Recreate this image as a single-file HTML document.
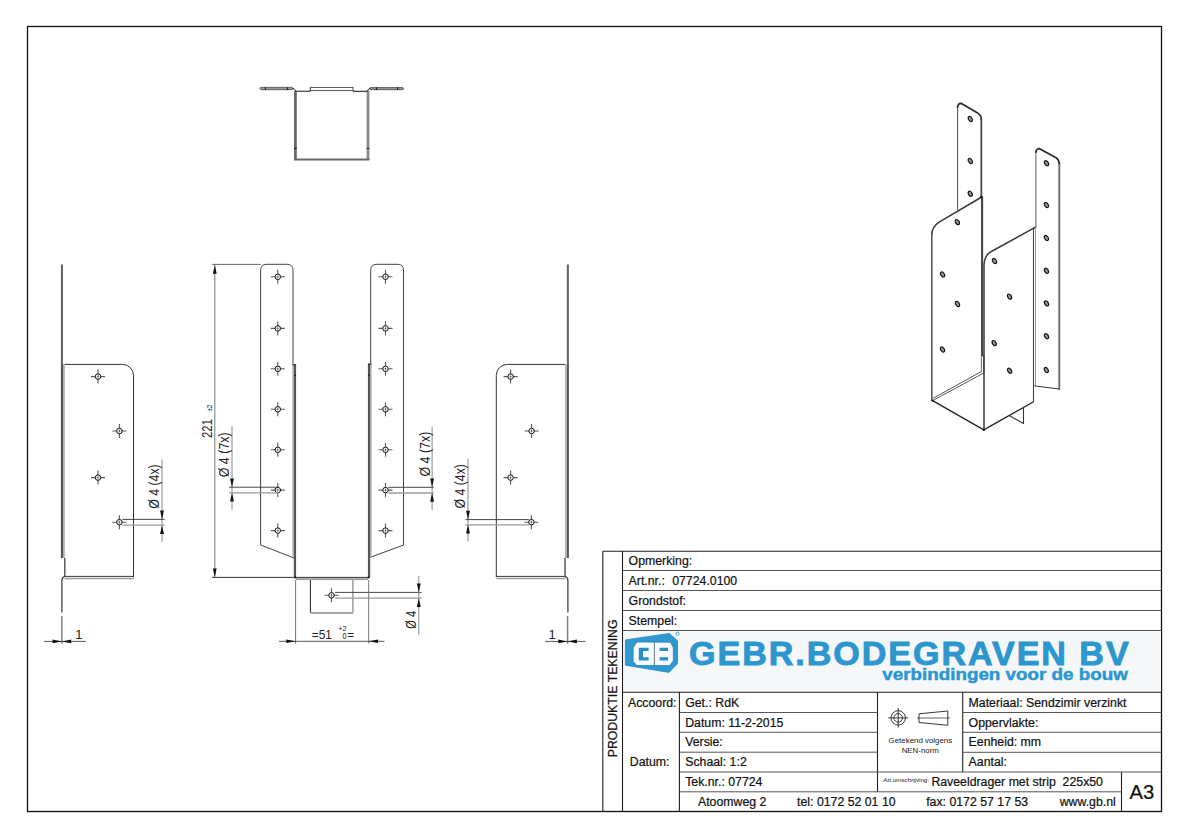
<!DOCTYPE html>
<html><head><meta charset="utf-8">
<style>
html,body{margin:0;padding:0;background:#fff;width:1188px;height:839px;overflow:hidden}
svg{display:block}
text{font-family:"Liberation Sans",sans-serif}
</style></head>
<body>
<svg width="1188" height="839" viewBox="0 0 1188 839">
<!-- frame -->
<rect x="27.5" y="26.5" width="1134" height="785" fill="none" stroke="#111" stroke-width="1.3"/>

<!-- TITLE BLOCK -->
<g id="tb">
<rect x="622.5" y="630.5" width="538.5" height="61.5" fill="#f6f7f9"/>
<g stroke="#222" stroke-width="1.1" fill="none">
<path d="M602.8 551.2V811.5 M602.8 551.2H1161.5 M622.5 551.2V811.5"/>
<path d="M622.5 692.2H1161.5 M679.4 692.2V811.5 M877.5 692.2V792 M962.7 692.2V772 M1121.5 772V811.5"/>
</g>
<g stroke="#555" stroke-width="1" fill="none">
<path d="M622.5 570.5H1161.5 M622.5 590.5H1161.5 M622.5 610.5H1161.5 M622.5 630.5H1161.5"/>
<path d="M679.4 712.5H877.5 M679.4 732.3H877.5 M679.4 752.2H877.5 M679.4 772H1161.5 M679.4 791.8H1121.5"/>
<path d="M962.7 712.5H1161.5 M962.7 732.3H1161.5 M962.7 752.3H1161.5"/>
</g>
<g font-size="12.3" fill="#111" stroke="#111" stroke-width="0.22">
<text x="628.6" y="564.7">Opmerking:</text>
<text x="628.6" y="584.7">Art.nr.:<tspan x="672.2">07724.0100</tspan></text>
<text x="628.6" y="604.7">Grondstof:</text>
<text x="628.6" y="624.7">Stempel:</text>
<text x="628" y="706.7">Accoord:</text>
<text x="629.8" y="765.8">Datum:</text>
<text x="685.2" y="706.7">Get.: RdK</text>
<text x="685.2" y="726.5">Datum: 11-2-2015</text>
<text x="685.2" y="746.3">Versie:</text>
<text x="685.2" y="766">Schaal: 1:2</text>
<text x="685.2" y="785.8">Tek.nr.: 07724</text>
<text x="698" y="805.7">Atoomweg 2</text>
<text x="797.1" y="805.7">tel: 0172 52 01 10</text>
<text x="926.2" y="805.7">fax: 0172 57 17 53</text>
<text x="1059.7" y="805.7">www.gb.nl</text>
<text x="968.6" y="706.7">Materiaal: Sendzimir verzinkt</text>
<text x="968.6" y="726.5">Oppervlakte:</text>
<text x="968.6" y="746.3">Eenheid: mm</text>
<text x="968.6" y="766">Aantal:</text>
<text x="931.4" y="785.8" xml:space="preserve">Raveeldrager met strip  225x50</text>
<text transform="translate(616.5 757.3) rotate(-90)">PRODUKTIE TEKENING</text>
</g>
<text x="883.3" y="781.6" font-size="6.2" fill="#222">Art.omschrijving:</text>
<text x="1129.6" y="799.2" font-size="20.2" fill="#111" stroke="#111" stroke-width="0.2">A3</text>
<text x="920.4" y="743.2" font-size="7.9" text-anchor="middle" fill="#222">Getekend volgens</text>
<text x="920.3" y="752.6" font-size="7.9" text-anchor="middle" fill="#222">NEN-norm</text>
<!-- NEN symbol -->
<g stroke="#222" stroke-width="0.9" fill="none">
<circle cx="898.2" cy="717.9" r="7.2"/>
<circle cx="898.2" cy="717.9" r="4.3"/>
<path d="M888.1 717.9H908.3 M898.2 707.9V727.6"/>
<path d="M919 713.8L947.8 711V725.3L919 722.5Z"/><path d="M917 718H950" stroke-width="0.7"/>
</g>
<!-- logo -->
<g id="logo">
<path d="M625.4 639.9L669.4 633.4L677.5 640.8V663.7L668.9 672.4L625.4 665.2Z" fill="#2e98d0" stroke="#2a88c0" stroke-width="0.8"/>
<path d="M637 642L670.6 642.3L673.3 647.7V661L669.4 665.5H637L633.1 661.4V647.7Z" fill="#f6fcff" stroke="#2479aa" stroke-width="0.7"/>
<path d="M638.8 647.7H648.6V651H643V657.2H648.6V660.5H638.8Z" fill="#2a8fc4"/>
<path d="M659.6 647.7H668V651H659.6Z M659.6 657.2H668V660.5H659.6Z" fill="#2a8fc4"/>
<path d="M654.4 642.3V665.5" stroke="#3a4a60" stroke-width="0.75"/>
<circle cx="677.5" cy="633.7" r="1.6" fill="none" stroke="#2e98d0" stroke-width="0.9"/>
<text x="689" y="665" font-size="34.1" font-weight="bold" fill="#2c97cf" stroke="#2c97cf" stroke-width="0.9" letter-spacing="1.95">GEBR.BODEGRAVEN BV</text>
<text x="882.3" y="680.2" font-size="16.8" font-weight="bold" fill="#2c97cf" stroke="#2c97cf" stroke-width="0.5" textLength="245.5" lengthAdjust="spacingAndGlyphs">verbindingen voor de bouw</text>
</g>
</g>
<!-- DRAWINGS -->
<defs>
<g id="h"><path d="M-7 0H-2.7M2.7 0H7M0 -7V-2.7M0 2.7V7" stroke="#5a5a5a" stroke-width="1.1"/><path d="M-2.7 0H2.7M0 -2.7V2.7" stroke="#bbb" stroke-width="0.8"/><circle r="2.75" fill="none" stroke="#111" stroke-width="1"/><path d="M0 -1V1" stroke="#333" stroke-width="0.8"/></g>
<path id="au" d="M0 0L-1.9 8.8H1.9Z" fill="#111"/>
<path id="ad" d="M0 0L-1.9 -8.8H1.9Z" fill="#111"/>
<path id="ar" d="M0 0L-9.3 -1.8V1.8Z" fill="#111"/>
<path id="al" d="M0 0L9.3 -1.8V1.8Z" fill="#111"/>
</defs>

<!-- top view -->
<g id="topview">
<rect x="260" y="87.4" width="32.7" height="2.3" rx="1.1" fill="#9a9a9a" stroke="#333" stroke-width="0.7"/>
<path d="M265.3 87.2V89.9 M287.4 87.2V89.9" stroke="#111" stroke-width="0.9"/>
<rect x="370" y="87.6" width="33.5" height="2.1" rx="1" fill="#9a9a9a" stroke="#333" stroke-width="0.7"/>
<path d="M376.4 87.3V90 M397.5 87.3V90" stroke="#111" stroke-width="0.9"/>
<rect x="294" y="91" width="2.8" height="69" fill="#6a6a6a"/>
<rect x="366.6" y="91" width="2.8" height="69" fill="#8a8a8a"/>
<path d="M292.7 87.8Q294.5 90.3 296.2 91.2H310.4V87.6 M367.2 91.4Q368.3 89 370 87.9 M353 90.6V91.3H367.2" stroke="#111" stroke-width="1" fill="none"/>
<rect x="310.4" y="87.4" width="42.6" height="3.2" fill="#fff" stroke="#444" stroke-width="0.9"/>
<path d="M294 159.6H369.4" stroke="#6a6a6a" stroke-width="2"/>
<path d="M294 148.4H296.8 M366.6 148.4H369.4" stroke="#111" stroke-width="0.9"/>
</g>

<!-- left side view -->
<g id="leftview">
<rect x="60.9" y="264.5" width="2.1" height="99.8" fill="#666"/>
<rect x="60.9" y="364.1" width="2.1" height="194" fill="#555"/>
<rect x="63" y="364.1" width="1.8" height="194" fill="#b0b0b0"/>
<path d="M64.8 364.4H122.5A11 11 0 0 1 133.5 375.4V577.2" stroke="#333" stroke-width="1" fill="none"/>
<path d="M64.8 576.4H133.5" stroke="#222" stroke-width="0.9"/>
<path d="M64.8 578.5H133.5" stroke="#9a9a9a" stroke-width="1.3"/>
<path d="M64.8 558V576.4Q62 577.3 61.9 580.5V612.4" stroke="#444" stroke-width="1.3" fill="none"/>
<use href="#h" x="98" y="376.6"/><use href="#h" x="119.4" y="431"/><use href="#h" x="98" y="477.6"/><use href="#h" x="119.4" y="522.2"/>
<path d="M61.9 616.1V643.8" stroke="#777" stroke-width="1.4"/>
<path d="M44.1 641.4H85.9" stroke="#444" stroke-width="0.9"/>
<use href="#ar" x="61.9" y="641.4"/><use href="#al" x="61.9" y="641.4"/>
<text x="75.2" y="638.8" font-size="13" fill="#222">1</text>
<path d="M162 459.3V541.8" stroke="#8a8a8a" stroke-width="1"/>
<path d="M122.3 519.4H164.6" stroke="#333" stroke-width="0.9"/>
<path d="M122.3 525.1H164.6" stroke="#9a9a9a" stroke-width="1.3"/>
<use href="#ad" x="162" y="519.4"/><use href="#au" x="162" y="525.2"/>
<text transform="translate(158.9 508.8) rotate(-90)" font-size="14.6" fill="#222" textLength="44.5" lengthAdjust="spacingAndGlyphs" xml:space="preserve">Ø 4 (4x)</text>
</g>

<!-- right side view -->
<g id="rightview">
<rect x="566.8" y="264.5" width="2.1" height="99.8" fill="#666"/>
<rect x="566.8" y="364.1" width="2.1" height="194" fill="#555"/>
<rect x="565" y="364.1" width="1.8" height="194" fill="#b0b0b0"/>
<path d="M565 364.4H507.3A11 11 0 0 0 496.3 375.4V577.2" stroke="#333" stroke-width="1" fill="none"/>
<path d="M496.3 576.4H565" stroke="#222" stroke-width="0.9"/>
<path d="M496.3 578.5H565" stroke="#9a9a9a" stroke-width="1.3"/>
<path d="M565 558V576.4Q567.8 577.3 567.9 580.5V612.4" stroke="#444" stroke-width="1.3" fill="none"/>
<use href="#h" x="510.6" y="376.6"/><use href="#h" x="531.6" y="431"/><use href="#h" x="510.6" y="477.6"/><use href="#h" x="531.4" y="522.2"/>
<path d="M567.6 616.1V643.8" stroke="#777" stroke-width="1.4"/>
<path d="M545.2 641.4H585.5" stroke="#444" stroke-width="0.9"/>
<use href="#ar" x="567.6" y="641.4"/><use href="#al" x="567.6" y="641.4"/>
<text x="548.5" y="638.8" font-size="13" fill="#222">1</text>
<path d="M468 458.8V541.4" stroke="#8a8a8a" stroke-width="1"/>
<path d="M465.5 519.6H528.9" stroke="#333" stroke-width="0.9"/>
<path d="M465.5 524.8H528.9" stroke="#9a9a9a" stroke-width="1.3"/>
<use href="#ad" x="468" y="519.6"/><use href="#au" x="468" y="524.8"/>
<text transform="translate(464.9 508.6) rotate(-90)" font-size="14.6" fill="#222" textLength="44.5" lengthAdjust="spacingAndGlyphs" xml:space="preserve">Ø 4 (4x)</text>
</g>

<!-- front view -->
<g id="frontview">
<path d="M294.5 558.2L260.6 545V269.5A5.3 5.3 0 0 1 265.9 264.3H287.7A5.3 5.3 0 0 1 293 269.5V364.5" stroke="#444" stroke-width="1" fill="none"/>
<rect x="292.3" y="364.5" width="1.5" height="192.7" fill="#b5b5b5"/>
<rect x="293.8" y="364.5" width="2.3" height="212.8" fill="#555"/>
<path d="M292.5 364.8H296 M294 375.4H296" stroke="#111" stroke-width="0.9"/>
<path d="M369.3 557.6L403.5 545.1V269.5A5.3 5.3 0 0 0 398.2 264.3H376A5.3 5.3 0 0 0 370.7 269.5V363.8" stroke="#444" stroke-width="1" fill="none"/>
<rect x="370.2" y="363.8" width="1.5" height="193.5" fill="#b5b5b5"/>
<rect x="367.9" y="363.8" width="2.3" height="213.5" fill="#555"/>
<path d="M368 364.1H371.5 M368 375H370" stroke="#111" stroke-width="0.9"/>
<path d="M212 577.4H368.5" stroke="#333" stroke-width="1"/>
<path d="M296 579.1H368" stroke="#9a9a9a" stroke-width="1.8"/>
<circle cx="295.3" cy="577.6" r="1" fill="#111"/><circle cx="368.6" cy="577.6" r="1" fill="#111"/>
<use href="#h" x="277.8" y="276.8"/><use href="#h" x="277.8" y="328.4"/><use href="#h" x="277.8" y="368.8"/><use href="#h" x="277.8" y="409.3"/><use href="#h" x="277.8" y="449.8"/><use href="#h" x="277.8" y="490.1"/><use href="#h" x="277.8" y="530.6"/>
<use href="#h" x="385.5" y="276.8"/><use href="#h" x="385.5" y="328.4"/><use href="#h" x="385.5" y="368.8"/><use href="#h" x="385.5" y="409.3"/><use href="#h" x="385.5" y="449.8"/><use href="#h" x="385.5" y="490.1"/><use href="#h" x="385.5" y="530.6"/>
<!-- stub -->
<path d="M310.4 580V612.6" stroke="#222" stroke-width="1"/>
<path d="M352.9 580V612.6" stroke="#888" stroke-width="1.2"/>
<path d="M310.4 613H353" stroke="#8a8a8a" stroke-width="1.5"/>
<use href="#h" x="331.5" y="595.3"/>
<!-- dims 221 -->
<path d="M212.2 264.4H260.6" stroke="#555" stroke-width="0.9"/>
<path d="M214.8 265V577" stroke="#777" stroke-width="1"/>
<use href="#au" x="214.8" y="265"/><use href="#ad" x="214.8" y="577.3"/>
<text transform="translate(212.1 437.9) rotate(-90)" font-size="14.6" fill="#222" textLength="18.8" lengthAdjust="spacingAndGlyphs">221</text>
<text transform="translate(212.1 411.6) rotate(-90)" font-size="7" fill="#222" textLength="7" lengthAdjust="spacingAndGlyphs">±2</text>
<!-- dims 7x -->
<path d="M232 426.1V509.8" stroke="#8a8a8a" stroke-width="1"/>
<path d="M229 487.2H278.8" stroke="#333" stroke-width="0.9"/>
<path d="M229 492.8H278.8" stroke="#9a9a9a" stroke-width="1.3"/>
<use href="#ad" x="232" y="487.2"/><use href="#au" x="232" y="492.8"/>
<text transform="translate(228.9 477.3) rotate(-90)" font-size="14.6" fill="#222" textLength="45" lengthAdjust="spacingAndGlyphs" xml:space="preserve">Ø 4 (7x)</text>
<path d="M432.1 426.8V510" stroke="#8a8a8a" stroke-width="1"/>
<path d="M388.3 487.3H433.7" stroke="#333" stroke-width="0.9"/>
<path d="M388.3 493H433.7" stroke="#9a9a9a" stroke-width="1.3"/>
<use href="#ad" x="432.1" y="487.3"/><use href="#au" x="432.1" y="493"/>
<text transform="translate(429.6 476.6) rotate(-90)" font-size="14.6" fill="#222" textLength="45" lengthAdjust="spacingAndGlyphs" xml:space="preserve">Ø 4 (7x)</text>
<!-- stub dim -->
<path d="M335.1 592.4H421.7" stroke="#333" stroke-width="0.9"/>
<path d="M335.1 598.2H421.7" stroke="#9a9a9a" stroke-width="1.3"/>
<path d="M418.8 575.8V634.5" stroke="#8a8a8a" stroke-width="1"/>
<use href="#ad" x="418.8" y="592.4"/><use href="#au" x="418.8" y="598.2"/>
<text transform="translate(416.2 628.7) rotate(-90)" font-size="14.6" fill="#222" textLength="17.8" lengthAdjust="spacingAndGlyphs" xml:space="preserve">Ø 4</text>
<!-- dim 51 -->
<path d="M295.6 580V643.8 M368.7 580V643.8" stroke="#777" stroke-width="1"/>
<path d="M278.9 641.3H384.5" stroke="#444" stroke-width="0.9"/>
<use href="#ar" x="295.6" y="641.3"/><use href="#al" x="368.7" y="641.3"/>
<text x="311.8" y="638.75" font-size="13" fill="#222" textLength="20" lengthAdjust="spacingAndGlyphs">=51</text>
<text x="338.2" y="631.3" font-size="7" fill="#222" textLength="8.2" lengthAdjust="spacingAndGlyphs">+2</text>
<text x="342.6" y="638.75" font-size="8.2" fill="#222" textLength="4" lengthAdjust="spacingAndGlyphs">0</text>
<text x="347.2" y="638.75" font-size="13" fill="#222" textLength="6.8" lengthAdjust="spacingAndGlyphs">=</text>
</g>
<!-- ISO -->
<g id="iso" fill="none" stroke-linejoin="round" stroke-linecap="round">
<defs><ellipse id="e" rx="2.8" ry="1.75" fill="#999" stroke="#111" stroke-width="1.2" transform="rotate(55)"/></defs>
<!-- back strip -->
<path d="M957.6 209.7V107.2" stroke="#555" stroke-width="1.1"/><path d="M957.6 107.2Q957.8 103.4 961 103.3L977.6 112.9Q981.3 115.3 981.3 119.3" stroke="#2a2a2a" stroke-width="1.7"/>
<path d="M981.3 119.3V196.8" stroke="#4a4a4a" stroke-width="1.8"/>
<!-- left plate -->
<path d="M981.3 197.2L939.1 222.1Q932.2 226.5 931.8 234.5" stroke="#3a3a3a" stroke-width="1.6"/><path d="M931.8 234.5V400.4" stroke="#444" stroke-width="1.4"/>
<path d="M982.1 197V355.5" stroke="#444" stroke-width="2.1"/>
<path d="M981.4 355.7V371.5" stroke="#555" stroke-width="0.9"/>
<path d="M983.8 355.5V373.4" stroke="#444" stroke-width="1.2"/>
<path d="M933.3 398.2L981.4 371.5 M933.8 400L983.6 373.1" stroke="#444" stroke-width="0.9"/>
<path d="M932.6 400.6L983.8 429.9L1033.5 401.7" stroke="#222" stroke-width="1.3"/>
<!-- right plate -->
<path d="M984 429.9V265.1Q984.5 254.5 992.2 251L1035.2 227.4" stroke="#3a3a3a" stroke-width="1.5"/>
<path d="M1033.5 227.6V401.7" stroke="#444" stroke-width="1.1"/>
<path d="M1035.5 227.4V385.8" stroke="#999" stroke-width="1"/>
<!-- right strip -->
<path d="M1035.9 227.4V152.2" stroke="#666" stroke-width="1.1"/><path d="M1035.9 152.2Q1036 149 1039.2 148.5L1056.5 158.1Q1059.3 160.2 1059.4 164.4" stroke="#2a2a2a" stroke-width="1.7"/>
<path d="M1059.3 164.4V389" stroke="#666" stroke-width="1.8"/>
<path d="M1034.7 385.9L1059.2 389" stroke="#333" stroke-width="1"/>
<!-- tab -->
<path d="M1009.9 415.9L1023.5 423.4V407.3" stroke="#333" stroke-width="1.1"/>
<circle cx="981.3" cy="196.9" r="1.1" fill="#111" stroke="none"/>
<circle cx="932.6" cy="400.6" r="1.1" fill="#111" stroke="none"/>
<circle cx="983.8" cy="429.9" r="1.1" fill="#111" stroke="none"/>
<!-- holes -->
<use href="#e" x="970.3" y="119"/><use href="#e" x="970.3" y="161"/><use href="#e" x="970.3" y="193.8"/>
<use href="#e" x="957.4" y="222.1"/><use href="#e" x="942.6" y="274.5"/><use href="#e" x="957.5" y="304"/><use href="#e" x="942.5" y="349.5"/>
<use href="#e" x="994.5" y="261"/><use href="#e" x="1009.6" y="296.6"/><use href="#e" x="994.2" y="343.1"/><use href="#e" x="1009.6" y="370.7"/>
<use href="#e" x="1046.5" y="163.2"/><use href="#e" x="1046.4" y="205"/><use href="#e" x="1046.4" y="238"/><use href="#e" x="1046.5" y="270.8"/><use href="#e" x="1046.5" y="303.4"/><use href="#e" x="1046.5" y="336.2"/><use href="#e" x="1046.3" y="370"/>
</g>
</svg>
</body></html>
